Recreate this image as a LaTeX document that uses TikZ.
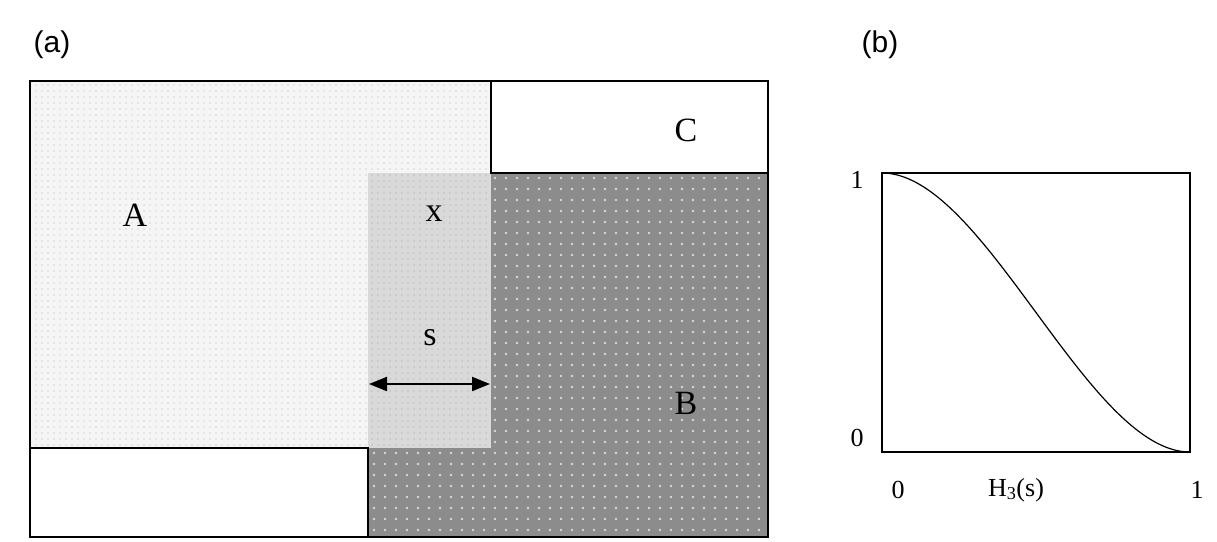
\documentclass[tikz,border=0pt]{standalone}
\usepackage{fontspec}
\setmainfont{Liberation Serif}
\newfontfamily\labfont{Liberation Sans}
\usetikzlibrary{patterns.meta,arrows.meta}
\begin{document}
\begin{tikzpicture}[x=1pt,y=-1pt,
  lbl/.style={font=\fontsize{34}{34}\selectfont},
  ax/.style={font=\fontsize{26}{26}\selectfont},
  pl/.style={font=\labfont\fontsize{30}{30}\selectfont}]
\useasboundingbox (0,0) rectangle (1217,541);
% region A
\fill[black!4] (30,81) rectangle (491,448);
\fill[pattern={Dots[distance=6pt,radius=0.6pt]},pattern color=black!30] (30,81) rectangle (491,448);
% region B
\fill[black!45] (368,173) rectangle (768,537);
\fill[pattern={Dots[distance=11pt,radius=1.3pt]},pattern color=white!85!black] (368,173) rectangle (768,537);
% overlap
\fill[black!15] (368,173) rectangle (491,448);
\fill[pattern={Dots[distance=6pt,radius=0.8pt]},pattern color=black!25] (368,173) rectangle (491,448);
\draw[line width=1.3pt] (30,81) rectangle (768,537);
\draw[line width=1.3pt] (491,81) -- (491,173) -- (768,173);
\draw[line width=1.3pt] (30,448) -- (368,448) -- (368,537);
\node[lbl] (A) at (135,215) {A};
\node[lbl] (B) at (686,403) {B};
\node[lbl] (C) at (686,130) {C};
\node[lbl] (X) at (434,214) {x};
\node[lbl] (S) at (430,338) {s};
\coordinate (sl) at (369,384);
\coordinate (sr) at (490,384);
\draw[line width=2pt,{Triangle[length=18pt,width=14pt]}-{Triangle[length=18pt,width=14pt]}] (sl) -- (sr);
\node[pl] (pa) at (52,45) {(a)};
\node[pl] (pb) at (880,45) {(b)};
% panel b
\draw[line width=1.3pt] (882,173) rectangle (1190,452);
\draw[line width=1.2pt] plot[domain=0:1,samples=60,smooth] ({882+308*\x},{173+279*(3*\x*\x-2*\x*\x*\x)});
\node[ax] (y1) at (857,180) {1};
\node[ax] (y0) at (857,438) {0};
\node[ax] (x0) at (898,490) {0};
\node[ax] (h) at (1016,490) {H\textsubscript{3}(s)};
\node[ax] (x1) at (1197,490) {1};
\end{tikzpicture}
\end{document}
